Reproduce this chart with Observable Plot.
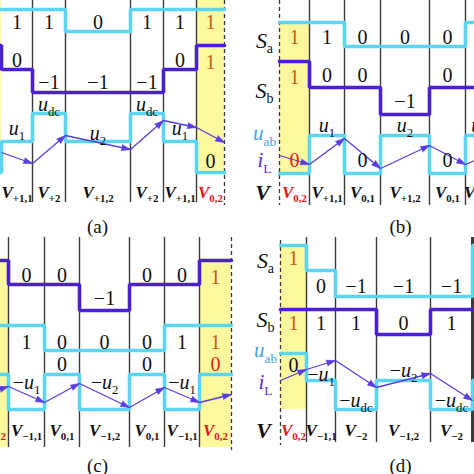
<!DOCTYPE html>
<html><head><meta charset="utf-8">
<script src="https://cdn.jsdelivr.net/npm/d3@7"></script>
<script src="https://cdn.jsdelivr.net/npm/@observablehq/plot@0.6"></script>
<style>html,body{margin:0;padding:0;background:#fff;overflow:hidden} svg{display:block}
svg text{font-family:"Liberation Serif","Times New Roman",serif}</style>
</head><body><div id="chart"></div>
<script>
// ===== data =====
// panel (a)
const aEdges = [-30, 1, 32, 65, 130, 163, 196, 224];
const aSa = [1, 1, 1, 0, 1, 1, 1];
const aSb = [1, 0, -1, -1, -1, 0, 1];
const aUab = ["0", "u1", "udc", "u2", "udc", "u1", "0"];
const aVec = ["0,2", "+1,1", "+2", "+1,2", "+2", "+1,1", "0,2"];
const aIL = [null, 152, 163, 135, 149, 120, 127, 142];
// panel (b)
const bEdges = [279, 309, 344, 380, 429, 465, 493];
const bSa = [1, 1, 0, 0, 0, 1];
const bSb = [1, 0, 0, -1, 0, 0];
const bUab = ["0", "u1", "0", "u2", "0", "u1"];
const bVec = ["0,2", "+1,1", "0,1", "+1,2", "0,1", "+1,1"];
const bIL = [155, 164, 138, 168, 145, 164, 152];
// panel (c)
const cEdges = [-22, 8, 44, 79, 129, 164, 199, 231];
const cSa = [1, 0, 0, -1, 0, 0, 1];
const cSb = [1, 1, 0, 0, 0, 1, 1];
const cUab = ["0", "-u1", "0", "-u2", "0", "-u1", "0"];
const cVec = ["0,2", "−1,1", "0,1", "−1,2", "0,1", "−1,1", "0,2"];
const cIL = [396, 386, 402, 383, 407, 387, 402, 394];
// panel (d)
const dEdges = [280, 306, 335, 376, 430, 472, 510];
const dSa = [1, 0, -1, -1, -1, 1];
const dSb = [1, 1, 1, 0, 1, 1];
const dUab = ["0", "-u1", "-udc", "-u2", "-udc", "-u1"];
const dVec = ["0,2", "−1,1", "−2", "−1,2", "−2", ""];
const dIL = [380, 369, 360, 387, 373, 400, null];
// text labels
const rowNames = ["*S*_{a}", "*S*_{b}", "*u*_{ab}", "*i*_{L}"];
const rowV = "*V*";
const tags = ["(a)", "(b)", "(c)", "(d)"];

// ===== styling / layout =====
const W = 474, H = 474;
const CYAN = "#5cd5f2", PURPLE = "#4b1fd2", ARROW = "#5a3ce0", YELLOW = "#fcf89e";
const HL = "#cc5a1c", HL0 = "#e0241c", RED = "#e3161c", GRAY = "#3a3a3a", UABC = "#45a3e6", ILC = "#5a2fd6";
const FONT = "Liberation Serif";

const layout = {
  a: {saLine:{"1":9,"0":31}, saLab:{"1":22,"0":22}, saColor:CYAN,
      sbLine:{"1":45,"0":69,"-1":92}, sbLab:{"1":62,"0":60,"-1":82}, sbColor:PURPLE,
      uLine:{"udc":113,"u":141,"0":172}, uLab:{"udc":104,"u1":128,"u2":133,"0":161}, uZeroHL:false,
      vY:192, rule:[0,202], dash:[0,205], yellow:[0,172], tag:[97,226], rows:null, thickLast:false},
  b: {saLine:{"1":22,"0":46}, saLab:{"1":37,"0":37}, saColor:CYAN,
      sbLine:{"1":61,"0":87,"-1":114}, sbLab:{"1":77,"0":75,"-1":101}, sbColor:PURPLE,
      uLine:{"u":135,"0":173}, uLab:{"u1":125,"u2":125,"0":160}, uZeroHL:true,
      vY:192, rule:[0,205], dash:[0,205], yellow:[22,172], tag:[400,226],
      rows:{x:264, ys:[40,90,133,160], vy:192}, thickLast:false},
  c: {saLine:{"1":260,"0":284,"-1":310}, saLab:{"1":277,"0":275,"-1":298}, saColor:PURPLE,
      sbLine:{"1":325,"0":350}, sbLab:{"1":342,"0":342}, sbColor:CYAN,
      uLine:{"0":374,"-u":409}, uLab:{"0":364,"-u1":382,"-u2":382}, uZeroHL:true,
      vY:430, rule:[237,447], dash:[237,450], yellow:[260,447], tag:[97,465], rows:null, thickLast:false},
  d: {saLine:{"1":245,"0":270,"-1":296}, saLab:{"1":258,"0":286,"-1":286}, saColor:CYAN,
      sbLine:{"1":309,"0":334}, sbLab:{"1":323,"0":323}, sbColor:PURPLE,
      uLine:{"0":353,"-u":380,"-udc":409}, uLab:{"0":365,"-u1":374,"-u2":370,"-udc":400}, uZeroHL:false,
      vY:430, rule:[237,442], dash:[240,445], yellow:[245,409], tag:[400,465],
      rows:{x:265, ys:[260,319,350,382], vy:430}, thickLast:true}
};

const panels = [
  {id:"a", edges:aEdges, sa:aSa, sb:aSb, uab:aUab, vec:aVec, iL:aIL},
  {id:"b", edges:bEdges, sa:bSa, sb:bSb, uab:bUab, vec:bVec, iL:bIL},
  {id:"c", edges:cEdges, sa:cSa, sb:cSb, uab:cUab, vec:cVec, iL:cIL},
  {id:"d", edges:dEdges, sa:dSa, sb:dSb, uab:dUab, vec:dVec, iL:dIL}
];

const fmtS = v => v < 0 ? "−" + (-v) : String(v);
const fmtU = v => v === "0" ? "0" : (v[0] === "-" ? "−" : "") + "*u*_{" + v.replace(/^-?u/, "") + "}";
const uKey = v => v.replace(/[12]$/, "");
const plain = t => t.replace(/[*_{}]/g, "");
const onCanvas = d => d.x + plain(d.t).length * 3.5 > 0 && d.x - plain(d.t).length * 3.5 < W;

const yellowData = [], ruleData = [], dashData = [], stepData = [], segs = [];
const numLabels = [], vLabels = [], rowLabelData = [], tagData = [];

panels.forEach((p, pi) => {
  const L = layout[p.id], E = p.edges, n = E.length - 1;
  const center = i => (E[i] + E[i + 1]) / 2;
  const hl = i => p.vec[i] === "0,2";
  for (let i = 0; i < n; i++) if (hl(i)) yellowData.push({x1:E[i], x2:E[i+1], y1:L.yellow[0], y2:L.yellow[1]});
  const inner = E.slice(1, -1);
  inner.forEach((x, j) => {
    if (x <= 2) return;
    ruleData.push({x, y1:L.rule[0], y2:L.rule[1], w: (L.thickLast && j === inner.length - 1) ? 3 : 1.4});
  });
  dashData.push({x: E[0] >= 0 ? E[0] : E[n], y1:L.dash[0], y2:L.dash[1]});
  const step = (vals, map, key, color, name) => {
    vals.forEach((v, i) => stepData.push({x:E[i], y:map[key(v)], k:p.id + name, color}));
    stepData.push({x:E[n], y:map[key(vals[n - 1])], k:p.id + name, color});
  };
  step(p.sa, L.saLine, String, L.saColor, "sa");
  step(p.sb, L.sbLine, String, L.sbColor, "sb");
  step(p.uab, L.uLine, uKey, CYAN, "u");
  for (let i = 0; i < E.length - 1; i++) {
    if (p.iL[i] == null || p.iL[i + 1] == null) continue;
    segs.push({x1:E[i], y1:p.iL[i], x2:E[i+1], y2:p.iL[i+1]});
  }
  for (let i = 0; i < n; i++) {
    const x = center(i), h = hl(i);
    numLabels.push({x, y:L.saLab[String(p.sa[i])], t:fmtS(p.sa[i]), c:h ? HL : "#111"});
    numLabels.push({x, y:L.sbLab[String(p.sb[i])], t:fmtS(p.sb[i]), c:h ? HL : "#111"});
    const u = p.uab[i];
    numLabels.push({x, y:L.uLab[u], t:fmtU(u), c:(h && (u !== "0" || L.uZeroHL)) ? HL0 : "#111"});
    if (p.vec[i]) vLabels.push({x, y:L.vY, t:"*V*_{" + p.vec[i] + "}", c:h ? RED : "#111", s:17});
  }
  if (L.rows) {
    rowNames.forEach((t, j) => rowLabelData.push({x:L.rows.x, y:L.rows.ys[j], t,
      c: j === 2 ? UABC : j === 3 ? ILC : "#111", s: j < 2 ? 22 : 21}));
    vLabels.push({x:L.rows.x - 2, y:L.rows.vy, t:rowV, c:"#111", s:22});
  }
  tagData.push({x:L.tag[0], y:L.tag[1], t:tags[pi]});
});

const heads = segs.map(d => ({...d, a: Math.atan2(d.y2 - d.y1, d.x2 - d.x1) * 180 / Math.PI + 90}));

const chart = Plot.plot({
  width: W, height: H, margin: 0,
  x: {domain: [0, W], range: [0, W], axis: null},
  y: {domain: [0, H], range: [0, H], axis: null},
  color: {type: "identity"},
  style: {overflow: "hidden", background: "#fff"},
  marks: [
    Plot.rect(yellowData, {x1:"x1", x2:"x2", y1:"y1", y2:"y2", fill: YELLOW}),
    Plot.ruleX(ruleData, {x:"x", y1:"y1", y2:"y2", stroke: GRAY, strokeWidth: "w"}),
    Plot.ruleX(dashData, {x:"x", y1:"y1", y2:"y2", stroke: GRAY, strokeWidth: 1.3, strokeDasharray: "4,3"}),
    Plot.line(stepData, {x:"x", y:"y", z:"k", stroke:"color", strokeWidth: 3.6, curve: "step-after", strokeLinejoin: "miter"}),
    Plot.link(segs, {x1:"x1", y1:"y1", x2:"x2", y2:"y2", stroke: ARROW, strokeWidth: 1.3}),
    Plot.vector(heads, {x:"x2", y:"y2", rotate:"a", length: 9, r: 3, shape: "spike", anchor: "end", fill: ARROW, stroke: ARROW, strokeWidth: 0.6}),
    Plot.text(numLabels.filter(onCanvas), {x:"x", y:"y", text:"t", fill:"c", fontSize: 20, fontFamily: FONT}),
    Plot.text(vLabels.filter(onCanvas), {x:"x", y:"y", text:"t", fill:"c", fontSize:"s", fontWeight: "bold", fontFamily: FONT}),
    Plot.text(rowLabelData, {x:"x", y:"y", text:"t", fill:"c", fontSize:"s", fontFamily: FONT}),
    Plot.text(tagData, {x:"x", y:"y", text:"t", fill:"#111", fontSize: 19, fontFamily: FONT})
  ]
});
document.getElementById("chart").appendChild(chart);

// rich text: *italic* and _{subscript}
function richify(svg) {
  svg.querySelectorAll("text").forEach(t => {
    const s = t.textContent;
    if (!/[*_]/.test(s)) return;
    const fs = parseFloat(getComputedStyle(t).fontSize) || 18;
    t.textContent = "";
    const re = /\*([^*]+)\*|_\{([^}]*)\}|([^*_]+)/g;
    let m, shift = 0;
    while ((m = re.exec(s))) {
      const ts = document.createElementNS("http://www.w3.org/2000/svg", "tspan");
      if (m[2] != null) {
        ts.textContent = m[2];
        ts.setAttribute("font-size", (fs * 0.64).toFixed(1));
        ts.setAttribute("dy", (fs * 0.26 - shift).toFixed(1));
        shift = fs * 0.26;
      } else {
        ts.textContent = m[1] != null ? m[1] : m[3];
        if (m[1] != null) ts.setAttribute("font-style", "italic");
        if (shift) { ts.setAttribute("dy", (-shift).toFixed(1)); shift = 0; }
      }
      t.appendChild(ts);
    }
  });
}
richify(chart);
</script></body></html>
